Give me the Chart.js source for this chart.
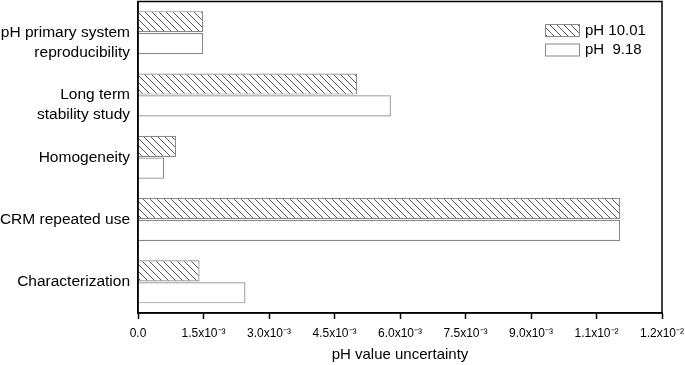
<!DOCTYPE html>
<html>
<head>
<meta charset="utf-8">
<script src="https://cdn.jsdelivr.net/npm/chart.js@4/dist/chart.umd.min.js"></script>
<style>
  body { margin: 0; background: #fff; }
</style>
</head>
<body>
<canvas id="uncertainty-chart" width="685" height="365"></canvas>
<script>
// data
const categories = [
    ['', 'pH primary system', 'reproducibility'],
    ['', 'Long term', 'stability study'],
    'Homogeneity',
    'CRM repeated use',
    'Characterization',
];
const seriesNames = ['pH 10.01', 'pH  9.18'];
const ph1001 = [0.00149, 0.00502, 0.00087, 0.01104, 0.00141];
const ph918 = [0.00149, 0.00579, 0.00060, 0.01104, 0.00246];
const xTickLabels = ['0.0', '1.5x10⁻³', '3.0x10⁻³', '4.5x10⁻³', '6.0x10⁻³', '7.5x10⁻³', '9.0x10⁻³', '1.1x10⁻²', '1.2x10⁻²'];

// diagonal hatch fill
function makeHatch() {
    const size = 7;
    const c = document.createElement('canvas');
    c.width = size;
    c.height = size;
    const g = c.getContext('2d');
    g.fillStyle = '#fff';
    g.fillRect(0, 0, size, size);
    g.strokeStyle = '#555';
    g.lineWidth = 1;
    g.beginPath();
    g.moveTo(-1, -1); g.lineTo(size + 1, size + 1);
    g.moveTo(-1, size - 1); g.lineTo(1, size + 1);
    g.moveTo(size - 1, -1); g.lineTo(size + 1, 1);
    g.stroke();
    return g.createPattern(c, 'repeat');
}
const hatch = makeHatch();

// kill the label-driven padding so the plot box sits where the figure has it
function noPad(scale) {
    scale.paddingTop = 0;
    scale.paddingBottom = 0;
    scale.paddingLeft = 0;
    scale.paddingRight = 0;
    if (scale._margins) {
        scale._margins.top = 0;
        scale._margins.bottom = 0;
        scale._margins.left = 0;
        scale._margins.right = 0;
    }
}

const framePlugin = {
    id: 'frame',
    afterDraw(chart) {
        const { ctx, chartArea: a } = chart;
        ctx.save();
        ctx.strokeStyle = '#000';
        ctx.lineWidth = 1.5;
        ctx.strokeRect(a.left, a.top, a.right - a.left, a.bottom - a.top);
        // legend inside the plot, top right
        ctx.font = '15px "Liberation Sans", Arial, sans-serif';
        ctx.textBaseline = 'middle';
        ctx.textAlign = 'left';
        chart.data.datasets.forEach((ds, i) => {
            const bx = a.right - 117, by = 24 + i * 19.5, bw = 34, bh = 12;
            ctx.fillStyle = ds.backgroundColor;
            ctx.fillRect(bx, by, bw, bh);
            ctx.strokeStyle = '#888';
            ctx.lineWidth = 1;
            ctx.strokeRect(bx + 0.5, by + 0.5, bw, bh);
            ctx.fillStyle = '#000';
            ctx.fillText(ds.label, bx + 40, by + bh / 2 + 0.5);
        });
        ctx.restore();
    }
};

const ctx = document.getElementById('uncertainty-chart').getContext('2d');
const chart = new Chart(ctx, {
    type: 'bar',
    data: {
        labels: categories,
        datasets: [
            {
                label: seriesNames[0],
                data: ph1001,
                backgroundColor: hatch,
                borderColor: '#888',
                borderWidth: 1.2,
            },
            {
                label: seriesNames[1],
                data: ph918,
                backgroundColor: '#fff',
                borderColor: '#888',
                borderWidth: 1.2,
            },
        ]
    },
    options: {
        indexAxis: 'y',
        responsive: false,
        animation: false,
        categoryPercentage: 0.7,
        barPercentage: 0.97,
        layout: { padding: { top: 1.5, right: 23, left: 0, bottom: 0 } },
        plugins: {
            legend: { display: false },
            tooltip: { enabled: false },
        },
        scales: {
            x: {
                min: 0,
                max: 0.012,
                ticks: {
                    stepSize: 0.0015,
                    color: '#000',
                    padding: 7,
                    font: { family: '"Liberation Sans", Arial, sans-serif', size: 12 },
                    maxRotation: 0,
                    autoSkip: false,
                    callback: (v, i) => xTickLabels[i],
                },
                grid: { drawOnChartArea: false, tickLength: 6, color: '#000', tickWidth: 1.5 },
                border: { color: '#000', width: 1.5 },
                title: {
                    display: true,
                    text: 'pH value uncertainty',
                    color: '#000',
                    font: { family: '"Liberation Sans", Arial, sans-serif', size: 15 },
                    padding: { top: 0, bottom: 1 },
                },
                afterFit(scale) {
                    scale.height = 52;
                    noPad(scale);
                },
            },
            y: {
                ticks: {
                    color: '#000',
                    padding: 0,
                    autoSkip: false,
                    font: { family: '"Liberation Sans", Arial, sans-serif', size: 15.5, lineHeight: 1.3 },
                },
                grid: { display: false },
                border: { display: true, color: '#000', width: 1.5 },
                afterFit(scale) {
                    scale.width = 138;
                    noPad(scale);
                },
            }
        }
    },
    plugins: [ framePlugin ],
});
</script>
</body>
</html>
